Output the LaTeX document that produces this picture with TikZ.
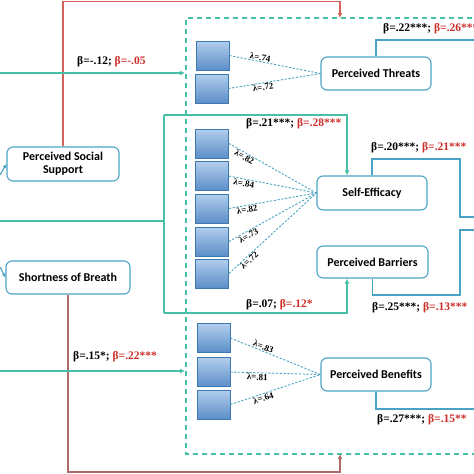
\documentclass[tikz,border=0pt]{standalone}
\usepackage{fontspec}
\setmainfont{Liberation Serif}
\newfontfamily\boxfont{Carlito}
\usetikzlibrary{arrows.meta}
\definecolor{tealc}{RGB}{72,192,168}
\definecolor{bluec}{RGB}{75,163,196}
\definecolor{redtop}{RGB}{214,98,92}
\definecolor{redbot}{RGB}{176,106,106}
\definecolor{redtxt}{RGB}{205,45,40}
\definecolor{sqdraw}{RGB}{60,120,178}
\tikzset{
  factor/.style={draw=bluec, line width=1.1pt, rounded corners=6pt, fill=white,
    font=\boxfont\bfseries\fontsize{12}{15}\selectfont, align=center, inner sep=2pt},
  itembox/.style={draw=sqdraw, line width=0.8pt, top color={rgb,255:red,178;green,206;blue,236},
    bottom color={rgb,255:red,92;green,142;blue,200}, minimum width=33pt, minimum height=29pt, inner sep=0pt},
  tealline/.style={draw=tealc, line width=1.4pt},
  tealarrow/.style={tealline, -{Latex[length=5pt,width=5pt]}},
  dashbox/.style={draw=tealc, line width=1.3pt, dash pattern=on 5pt off 4pt},
  blueline/.style={draw=bluec, line width=1.1pt},
  bluearrow/.style={draw=bluec, line width=1.1pt, -{Latex[length=4pt,width=4pt]}},
  redline1/.style={draw=redtop, line width=1.4pt, -{Latex[length=5pt,width=5pt]}},
  redline2/.style={draw=redbot, line width=1.6pt, -{Latex[length=5pt,width=5pt]}},
  dotl/.style={draw=bluec, line width=0.9pt, dash pattern=on 2.2pt off 1.6pt},
  lam/.style={font=\bfseries\fontsize{9}{10}\selectfont, inner sep=0.5pt, text=black},
  beta/.style={font=\bfseries\fontsize{11.5}{12}\selectfont, inner sep=0pt, anchor=west},
}
\newcommand{\bb}[2]{#1; \textcolor{redtxt}{#2}}
\begin{document}
\begin{tikzpicture}[x=1pt,y=-1pt]
\useasboundingbox (0,0) rectangle (474,474);
\clip (0,0) rectangle (474,474);

% dashed measurement box
\coordinate (dbA) at (490,18);
\coordinate (dbB) at (186,18);
\coordinate (dbC) at (186,454);
\coordinate (dbD) at (490,454);
\draw[dashbox] (dbA) -- (dbB) -- (dbC) -- (dbD);

% factor boxes
\node[factor, minimum width=110pt, minimum height=33pt] (threats) at (376,73.5) {Perceived Threats};
\node[factor, minimum width=110pt, minimum height=34pt] (efficacy) at (372,193) {Self-Efficacy};
\node[factor, minimum width=111pt, minimum height=32pt] (barriers) at (372.5,262) {Perceived Barriers};
\node[factor, minimum width=110pt, minimum height=33pt] (benefits) at (376,374.5) {Perceived Benefits};
\node[factor, minimum width=112pt, minimum height=34pt] (social) at (63,164) {Perceived Social\\[-2pt]Support};
\node[factor, minimum width=124pt, minimum height=33pt] (breath) at (68,277.5) {Shortness of Breath};

% indicator squares
\node[itembox] (t1) at (212.5,55.5) {};
\node[itembox] (t2) at (211.5,88.5) {};
\node[itembox] (e1) at (212,143.5) {};
\node[itembox] (e2) at (212,176) {};
\node[itembox] (e3) at (212,208.5) {};
\node[itembox] (e4) at (212,241.5) {};
\node[itembox] (e5) at (212,273.5) {};
\node[itembox] (b1) at (213.5,338) {};
\node[itembox] (b2) at (213.5,372) {};
\node[itembox] (b3) at (213.5,404.5) {};

% loadings
\draw[dotl] (t1.east) -- node[lam, above, sloped, pos=0.33] {λ=.74} (threats.west);
\draw[dotl] (t2.east) -- node[lam, below, sloped, pos=0.37] {λ=.72} (threats.west);
\draw[dotl] (e1.east) -- node[lam, below, sloped, pos=0.2] {λ=.82} (efficacy.west);
\draw[dotl] (e2.east) -- node[lam, below, sloped, pos=0.18] {λ=.84} (efficacy.west);
\draw[dotl] (e3.east) -- node[lam, below, sloped, pos=0.2] {λ=.82} (efficacy.west);
\draw[dotl] (e4.east) -- node[lam, below, sloped, pos=0.2] {λ=.73} (efficacy.west);
\draw[dotl] (e5.east) -- node[lam, below, sloped, pos=0.2] {λ=.72} (efficacy.west);
\draw[dotl] (b1.east) -- node[lam, above, sloped, pos=0.35] {λ=.83} (benefits.west);
\draw[dotl] (b2.east) -- node[lam, below, sloped, pos=0.3] {λ=.81} (benefits.west);
\draw[dotl] (b3.east) -- node[lam, below, sloped, pos=0.35] {λ=.64} (benefits.west);

% red paths
\coordinate (rTop) at (340,1.5);
\coordinate (rTopEnd) at (340,18);
\draw[redline1] (social.north) |- (rTop) -- (rTopEnd);
\coordinate (rBot) at (340,472);
\coordinate (rBotEnd) at (340,454);
\draw[redline2] (breath.south) |- (rBot) -- (rBotEnd);

% teal paths
\coordinate (inT) at (0,73);
\coordinate (dbT) at (185,73);
\draw[tealarrow] (inT) -- (dbT);
\node[beta] (lT) at (77,62) {\bb{β=-.12}{β=-.05}};
\coordinate (inB) at (0,371);
\coordinate (dbBo) at (185,371);
\draw[tealarrow] (inB) -- (dbBo);
\node[beta] (lB) at (73,357) {\bb{β=.15*}{β=.22***}};
\coordinate (inM) at (0,221);
\coordinate (mL) at (164,221);
\coordinate (mTL) at (164,115);
\coordinate (mBL) at (164,313);
\coordinate (mTR) at (347,115);
\coordinate (mBR) at (347,313);
\draw[tealline] (inM) -- (mL);
\draw[tealline] (mBL) -- (mTL);
\draw[tealarrow] (mTL) -- (mTR) -- (mTR |- efficacy.north);
\draw[tealarrow] (mBL) -- (mBR) -- (mBR |- barriers.south);
\node[beta] (lM1) at (246,124) {\bb{β=.21***}{β=.28***}};
\node[beta] (lM2) at (246,305) {\bb{β=.07}{β=.12*}};

% small incoming arrows
\coordinate (sIn) at (0,175);
\draw[bluearrow] (sIn) -- (social.west);
\coordinate (brIn) at (0,267);
\draw[bluearrow] (brIn) -- (breath.west);

% right outgoing paths
\coordinate (tOut) at (490,40);
\draw[blueline] (threats.north) |- (tOut);
\coordinate (eTR) at (460,159);
\coordinate (eBR) at (460,217);
\coordinate (eOut) at (490,217);
\draw[blueline] (efficacy.north) |- (eTR) -- (eBR) -- (eOut);
\coordinate (bBR) at (460,295);
\coordinate (bTR) at (460,230);
\coordinate (bOut) at (490,230);
\draw[blueline] (barriers.south) |- (bBR) -- (bTR) -- (bOut);
\coordinate (bnOut) at (490,409);
\draw[blueline] (benefits.south) |- (bnOut);

\node[beta] (lR1) at (383,29) {\bb{β=.22***}{β=.26***}};
\node[beta] (lR2) at (371,148) {\bb{β=.20***}{β=.21***}};
\node[beta] (lR3) at (372,308) {\bb{β=.25***}{β=.13***}};
\node[beta] (lR4) at (377,420) {\bb{β=.27***}{β=.15**}};
\end{tikzpicture}
\end{document}
